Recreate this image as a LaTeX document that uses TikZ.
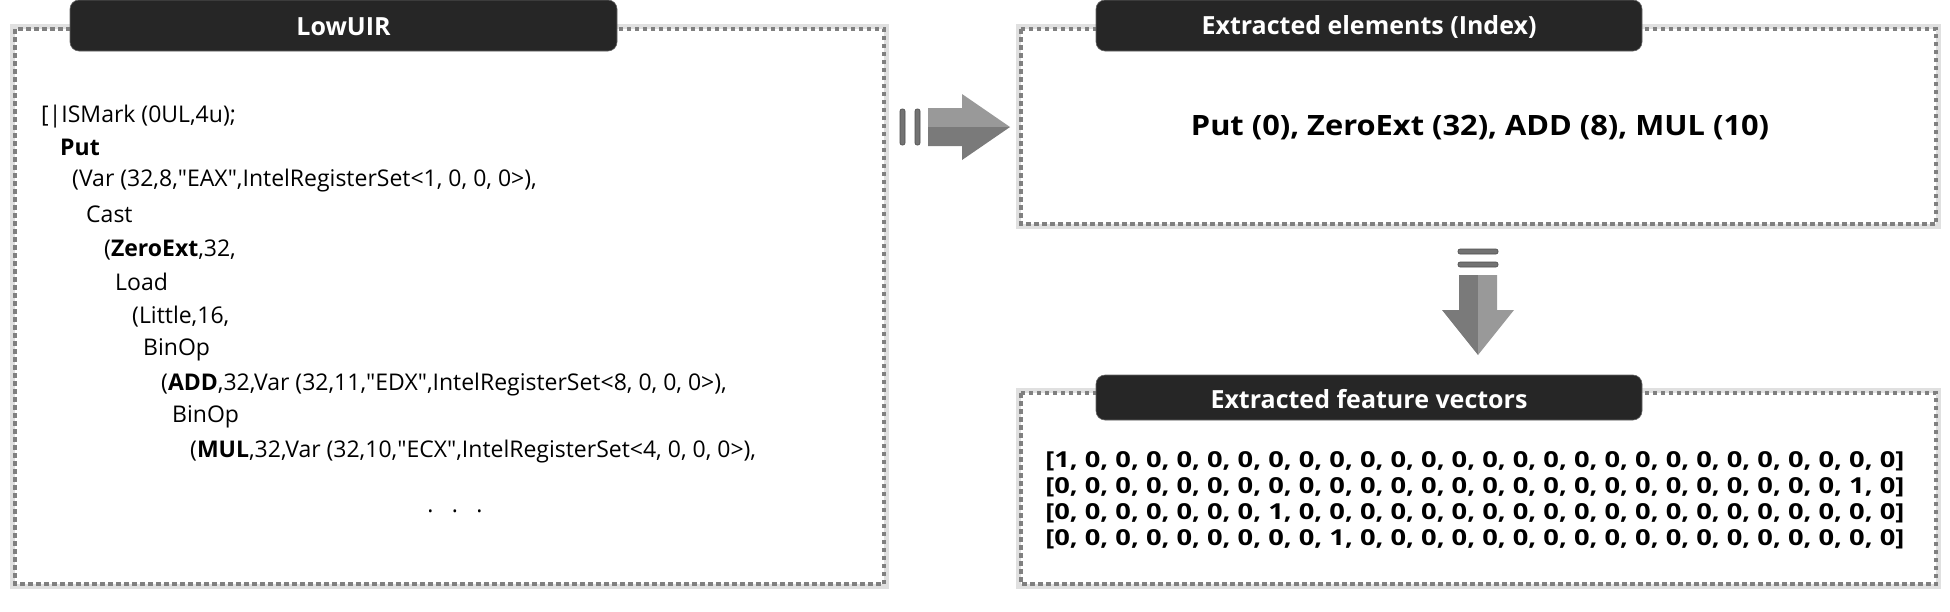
\documentclass[tikz,border=0pt]{standalone}
\usepackage{fontspec}
\setmainfont{Open Sans}
\usetikzlibrary{calc}
\begin{document}
\begin{tikzpicture}[x=1pt,y=-1pt,
  halo/.style={line width=10pt,draw=black!12},
  dots/.style={line width=4.5pt,draw=black!50,dash pattern=on 4.5pt off 3.5pt},
  tab/.style={fill=black!85,draw=black!60,rounded corners=9pt,line width=0.6pt},
  ttl/.style={text=white,font=\bfseries\fontsize{25}{28}\selectfont,anchor=center},
  code/.style={anchor=base west,font=\fontsize{23}{25}\selectfont,inner sep=0},
  vec/.style={anchor=base west,font=\bfseries\fontsize{22}{23}\selectfont,inner sep=0,xscale=1.24,transform shape},
  bar/.style={fill=black!55,draw=black!70,line width=0.6pt,rounded corners=2pt}]
\useasboundingbox (0,0) rectangle (1950,611);
% boxes
\foreach \a/\b/\c/\d/\n in {15/29/884/584/L, 1021/29/1936/224/E, 1021/393/1936/584/F}{
  \draw[halo] (\a,\b) rectangle (\c,\d);
  \fill[white] (\a,\b) rectangle (\c,\d);
  \draw[dots] (\a,\b) rectangle (\c,\d);
  \coordinate (\n) at (\a,\b);
}
% tabs
\draw[tab] (70,0) rectangle (617,51);
\node[ttl] (tL) at (343.5,27) {LowUIR};
\draw[tab] (1096,0) rectangle (1642,51);
\node[ttl] (tE) at (1369,27) {Extracted elements (Index)};
\draw[tab] (1096,375) rectangle (1642,420);
\node[ttl] (tF) at (1369,399) {Extracted feature vectors};
% code
\def\q{\textquotedbl}
\node[code] (c1) at (41,122) {[|ISMark (0UL,4u);};
\node[code] (c2) at (60,155) {\bfseries Put};
\node[code] (c3) at (72,186) {(Var (32,8,\q EAX\q,IntelRegisterSet<1, 0, 0, 0>),};
\node[code] (c4) at (86,222) {Cast};
\node[code] (c5) at (104,256) {(\textbf{ZeroExt},32,};
\node[code] (c6) at (115,290) {Load};
\node[code] (c7) at (132,323) {(Little,16,};
\node[code] (c8) at (143,355) {BinOp};
\node[code] (c9) at (161,390) {(\textbf{ADD},32,Var (32,11,\q EDX\q,IntelRegisterSet<8, 0, 0, 0>),};
\node[code] (c10) at (172,422) {BinOp};
\node[code] (c11) at (190,457) {(\textbf{MUL},32,Var (32,10,\q ECX\q,IntelRegisterSet<4, 0, 0, 0>),};
\node[code,anchor=base] (c12) at (455,512) {.\hspace{0.8em}.\hspace{0.8em}.};
% elements
\node[font=\bfseries\fontsize{28}{30}\selectfont,xscale=1.1,transform shape] (el) at (1480,128) {Put (0), ZeroExt (32), ADD (8), MUL (10)};
% vectors
\node[vec] (v1) at (1045,467) {[1, 0, 0, 0, 0, 0, 0, 0, 0, 0, 0, 0, 0, 0, 0, 0, 0, 0, 0, 0, 0, 0, 0, 0, 0, 0, 0, 0]};
\node[vec] (v2) at (1045,493) {[0, 0, 0, 0, 0, 0, 0, 0, 0, 0, 0, 0, 0, 0, 0, 0, 0, 0, 0, 0, 0, 0, 0, 0, 0, 0, 1, 0]};
\node[vec] (v3) at (1045,519) {[0, 0, 0, 0, 0, 0, 0, 1, 0, 0, 0, 0, 0, 0, 0, 0, 0, 0, 0, 0, 0, 0, 0, 0, 0, 0, 0, 0]};
\node[vec] (v4) at (1045,545) {[0, 0, 0, 0, 0, 0, 0, 0, 0, 1, 0, 0, 0, 0, 0, 0, 0, 0, 0, 0, 0, 0, 0, 0, 0, 0, 0, 0]};
% right arrow
\draw[bar] (900,109) rectangle (905,145);
\draw[bar] (915,109) rectangle (920,145);
\fill[black!40] (928,108) -- (962,108) -- (962,94) -- (1010,127) -- (928,127) -- cycle;
\fill[black!52] (928,127) -- (1010,127) -- (962,160) -- (962,146) -- (928,146) -- cycle;
% down arrow
\draw[bar] (1458,249) rectangle (1498,254);
\draw[bar] (1458,262) rectangle (1498,267);
\fill[black!52] (1459,275) -- (1478,275) -- (1478,355) -- (1442,310) -- (1459,310) -- cycle;
\fill[black!40] (1478,275) -- (1497,275) -- (1497,310) -- (1514,310) -- (1478,355) -- cycle;
\end{tikzpicture}
\end{document}
